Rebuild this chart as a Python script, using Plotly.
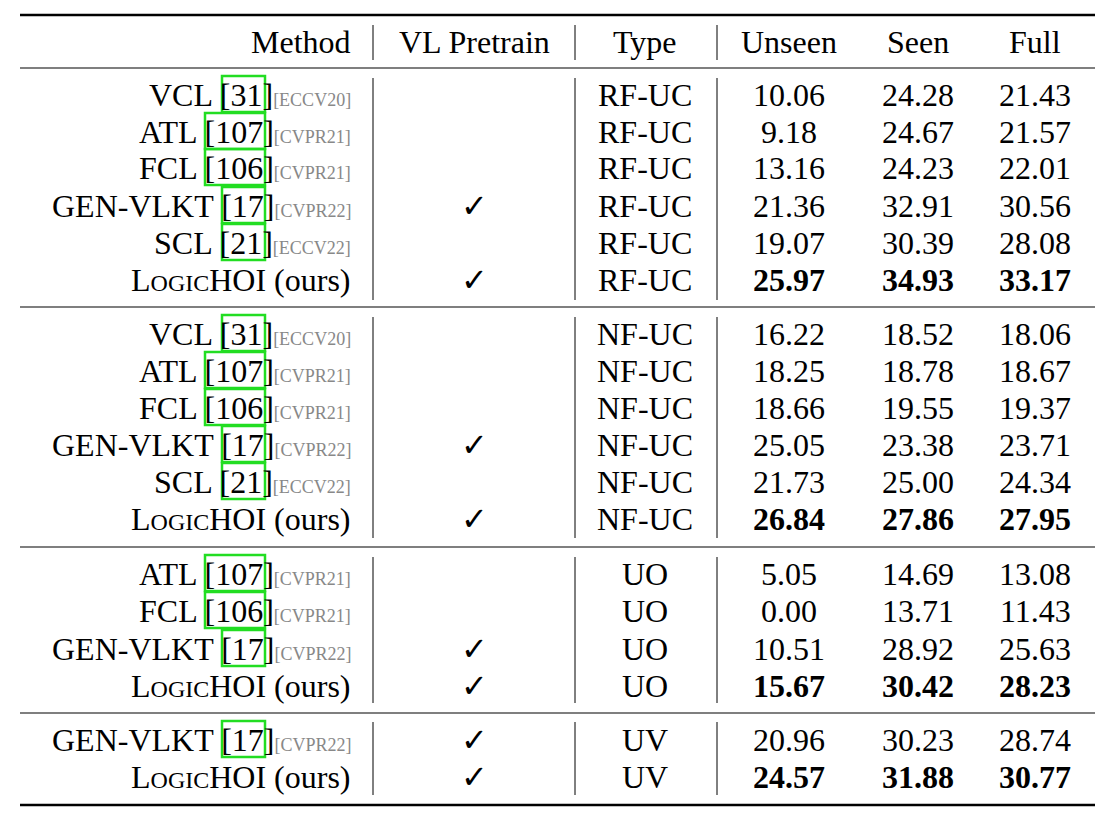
import plotly.graph_objects as go

headers = ["Method", "VL Pretrain", "Type", "Unseen", "Seen", "Full"]
methods = ["VCL", "ATL", "FCL", "GEN-VLKT", "SCL", "OURS",
           "VCL", "ATL", "FCL", "GEN-VLKT", "SCL", "OURS",
           "ATL", "FCL", "GEN-VLKT", "OURS",
           "GEN-VLKT", "OURS"]
refs = ["31", "107", "106", "17", "21", "", "31", "107", "106", "17", "21", "",
        "107", "106", "17", "", "17", ""]
venues = ["ECCV20", "CVPR21", "CVPR21", "CVPR22", "ECCV22", "",
          "ECCV20", "CVPR21", "CVPR21", "CVPR22", "ECCV22", "",
          "CVPR21", "CVPR21", "CVPR22", "", "CVPR22", ""]
vl = [0, 0, 0, 1, 0, 1, 0, 0, 0, 1, 0, 1, 0, 0, 1, 1, 1, 1]
types = ["RF-UC"] * 6 + ["NF-UC"] * 6 + ["UO"] * 4 + ["UV"] * 2
unseen = [10.06, 9.18, 13.16, 21.36, 19.07, 25.97, 16.22, 18.25, 18.66, 25.05, 21.73, 26.84,
          5.05, 0.00, 10.51, 15.67, 20.96, 24.57]
seen = [24.28, 24.67, 24.23, 32.91, 30.39, 34.93, 18.52, 18.78, 19.55, 23.38, 25.00, 27.86,
        14.69, 13.71, 28.92, 30.42, 30.23, 31.88]
full = [21.43, 21.57, 22.01, 30.56, 28.08, 33.17, 18.06, 18.67, 19.37, 23.71, 24.34, 27.95,
        13.08, 11.43, 25.63, 28.23, 28.74, 30.77]
row_y = [95, 132, 168, 206, 243, 280, 334, 371, 408, 445, 482, 519, 574, 611, 649, 686, 740, 777]

W, H = 1120, 820
OFF = 8
col_x = [353, 474, 645, 789, 918, 1035]
FS = 32
fig = go.Figure()
ann = []
def add(x, y, t, anchor="center"):
    ann.append(dict(x=x - OFF, y=y - OFF, xref="x", yref="y", text=t, showarrow=False,
                    xanchor=anchor, yanchor="middle", font=dict(size=FS, color="black")))

add(col_x[0], 42, headers[0], "right")
for i in range(1, 6):
    add(col_x[i], 42, headers[i])

ours = "L<span style='font-size:24px'>OGIC</span>HOI (ours)"
shapes = []
for i, y in enumerate(row_y):
    if methods[i] == "OURS":
        add(col_x[0], y, ours, "right")
        b = lambda v: "<b>%.2f</b>" % v
    else:
        add(col_x[0], y, "%s [%s]<span style='font-size:18px;color:#888'>[%s]</span>" % (methods[i], refs[i], venues[i]), "right")
        b = lambda v: "%.2f" % v
        nd = len(refs[i])
        shapes.append(dict(type="rect", xref="x", yref="y", x0=265 - nd * 17 - 9 - OFF, x1=265 - OFF,
                           y0=y - 19 - OFF, y1=y + 17 - OFF, line=dict(color="#22dd22", width=2.5)))
    if vl[i]:
        add(col_x[1], y, "✓")
    add(col_x[2], y, types[i])
    add(col_x[3], y, b(unseen[i]))
    add(col_x[4], y, b(seen[i]))
    add(col_x[5], y, b(full[i]))

for yy, w in [(15, 2.5), (68, 1.2), (307, 1.2), (547, 1.2), (713, 1.2), (805, 2.5)]:
    shapes.append(dict(type="line", xref="x", yref="y", x0=20 - OFF, x1=1095 - OFF, y0=yy - OFF, y1=yy - OFF,
                       line=dict(color="black", width=w)))
groups = [(25, 60), (78, 300), (317, 538), (557, 703), (722, 795)]
for xx in [373, 575, 717]:
    for a, c in groups:
        shapes.append(dict(type="line", xref="x", yref="y", x0=xx - OFF, x1=xx - OFF, y0=a - OFF, y1=c - OFF,
                           line=dict(color="black", width=1)))

fig.update_layout(width=W, height=H, margin=dict(l=0, r=0, t=0, b=0),
                  paper_bgcolor="white", plot_bgcolor="white",
                  font=dict(family="Liberation Serif"),
                  xaxis=dict(range=[0, W], visible=False, fixedrange=True),
                  yaxis=dict(range=[H, 0], visible=False, fixedrange=True),
                  annotations=ann, shapes=shapes, showlegend=False)
fig.write_html("out.html")
